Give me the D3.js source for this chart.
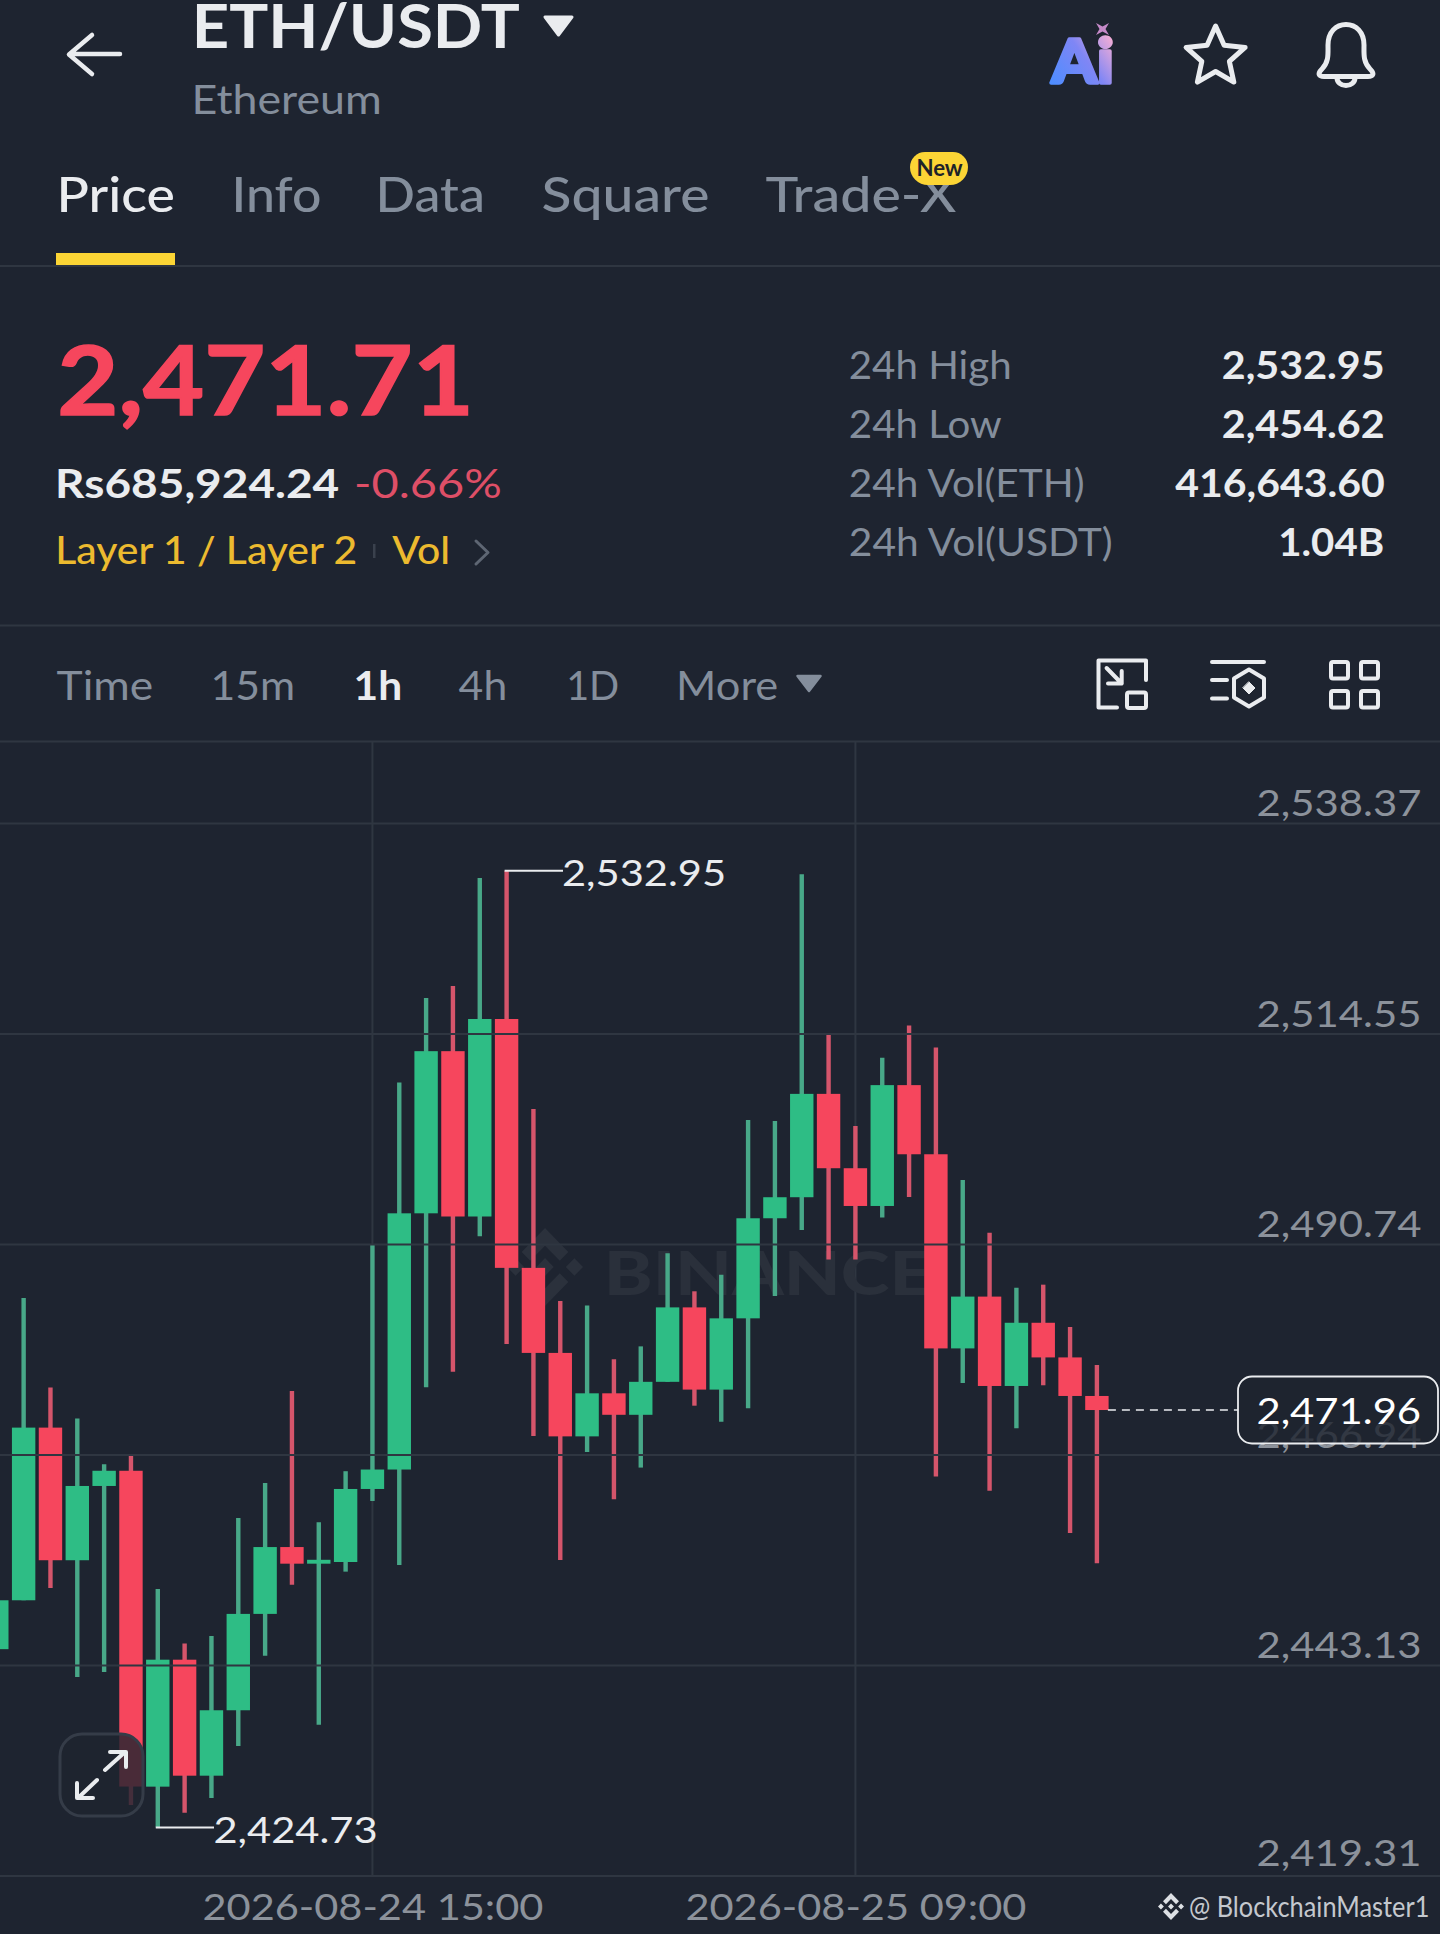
<!DOCTYPE html>
<html>
<head>
<meta charset="utf-8">
<script src="https://cdn.jsdelivr.net/npm/d3@7"></script>
<style>
html,body{margin:0;padding:0;background:#1E2430;}
svg{display:block;}
text{font-family:Lato,"Open Sans",sans-serif;}
</style>
</head>
<body>
<svg id="chart" width="1440" height="1934"></svg>
<script>
// ---------- chart data ----------
const opens  = [2444.91,2450.44,2469.97,2454.97,2463.37,2465.09,2429.36,2443.72,2430.60,2438.00,2448.90,2456.46,2454.58,2454.77,2463.03,2465.23,2494.21,2512.55,2493.85,2516.19,2488.04,2478.42,2468.98,2473.85,2471.42,2475.15,2483.57,2474.27,2482.33,2493.65,2496.03,2507.72,2499.31,2495.04,2508.71,2500.89,2478.93,2484.79,2474.68,2481.83,2477.91,2473.55];
const highs  = [2450.44,2484.63,2474.52,2471.01,2465.84,2466.96,2451.72,2445.55,2446.40,2459.76,2463.71,2474.12,2459.26,2465.04,2490.74,2509.02,2518.57,2519.92,2532.13,2532.95,2506.01,2484.29,2483.77,2477.70,2479.16,2489.70,2485.39,2487.26,2504.77,2504.65,2532.55,2514.58,2504.09,2511.80,2515.44,2512.96,2497.99,2492.00,2485.80,2486.14,2481.35,2477.05];
const lows   = [2444.91,2450.44,2451.83,2441.75,2442.34,2427.28,2424.73,2426.40,2428.08,2433.96,2444.16,2452.21,2436.37,2453.68,2461.68,2454.43,2474.53,2476.29,2491.62,2479.42,2469.02,2455.00,2467.21,2461.86,2465.45,2475.15,2472.45,2470.64,2472.15,2484.87,2492.32,2488.99,2488.99,2493.75,2496.05,2464.44,2475.02,2462.83,2469.91,2474.76,2458.05,2454.62];
const closes = [2450.44,2469.97,2454.97,2463.37,2465.09,2429.37,2443.72,2430.60,2438.00,2448.90,2456.46,2454.58,2455.02,2463.03,2465.23,2494.21,2512.55,2493.85,2516.19,2488.04,2478.42,2468.98,2473.85,2471.42,2475.15,2483.57,2474.27,2482.33,2493.65,2496.03,2507.72,2499.31,2495.04,2508.71,2500.89,2478.93,2484.79,2474.68,2481.83,2477.91,2473.55,2471.96];
const yTicks = [2538.37,2514.55,2490.74,2466.94,2443.13,2419.31];
const xTickIndex = [14,32];
const xTickLabels = ["2026-08-24 15:00","2026-08-25 09:00"];
const maxPrice = 2532.95, minPrice = 2424.73, lastPrice = 2471.96;
const maxIndex = 19, minIndex = 6;

const pairName = "ETH/USDT", coinName = "Ethereum";
const tabLabels = ["Price","Info","Data","Square","Trade-X"];
const intervalLabels = ["Time","15m","1h","4h","1D","More"];
const priceText = "2,471.71", fiatText = "Rs685,924.24", changeText = "-0.66%";
const tagLabels = ["Layer 1 / Layer 2","Vol"];
const statLabels = ["24h High","24h Low","24h Vol(ETH)","24h Vol(USDT)"];
const statValues = ["2,532.95","2,454.62","416,643.60","1.04B"];

// ---------- palette ----------
const BG="#1E2430", WHITE="#EAECEF", GREY="#848E9C", AXIS="#8C929B", UP="#2EBD85", DOWN="#F6465D",
      UPW="#48A888", DOWNW="#D5556B", LINE="#2F3641", YEL="#FCD535", TAG="#ECBA2F";

const svg = d3.select("#chart");
svg.append("rect").attr("width",1440).attr("height",1934).attr("fill",BG);

const defs = svg.append("defs");
const ai = defs.append("linearGradient").attr("id","aiGrad").attr("gradientUnits","userSpaceOnUse")
  .attr("x1",1053).attr("y1",83).attr("x2",1113).attr("y2",40);
[["0%","#4F8DFF"],["55%","#7F86F5"],["100%","#F2ADD6"]].forEach(s=>ai.append("stop").attr("offset",s[0]).attr("stop-color",s[1]));

function T(str,x,y,size,width,fill,weight){
  const n = svg.append("text").attr("x",x-0.07*size).attr("y",y).attr("font-size",size)
    .attr("fill",fill).attr("font-weight",weight||400).text(str);
  if(width) n.attr("textLength",width+0.1*size).attr("lengthAdjust","spacingAndGlyphs");
  return n;
}
function P(d,stroke,sw,fill){
  return svg.append("path").attr("d",d).attr("fill",fill||"none").attr("stroke",stroke||"none")
    .attr("stroke-width",sw||0).attr("stroke-linecap","round").attr("stroke-linejoin","round");
}
const LOGO = ["M38.73 53.2l24.59-24.58 24.6 24.6 14.3-14.31L63.32 0 24.42 38.9l14.31 14.3z",
 "M0 63.31l14.3-14.31 14.31 14.31-14.31 14.3z",
 "M38.73 73.41l24.59 24.59 24.6-24.6 14.31 14.29-38.9 38.91-38.91-38.88-.02-.02z",
 "M98 63.31l14.3-14.31 14.31 14.3-14.31 14.31z",
 "M77.83 63.3L63.32 48.78 52.59 59.51l-1.24 1.23-2.54 2.54 14.51 14.5 14.51-14.47z"].join("");
function logo(x,y,w,h,fill){
  svg.append("path").attr("d",LOGO).attr("fill",fill)
    .attr("transform",`translate(${x},${y}) scale(${w/126.61},${h/126.61})`);
}

// ---------- header ----------
P("M120 54H70M92 35L69 54.5L92 74",WHITE,4.5);
T(pairName,196,47.5,61,322,WHITE,700);
P("M545 17H572L558.5 35Z",WHITE,3,WHITE);
T(coinName,194.5,113.5,41,186,GREY,400);

// AI icon, star, bell
T("Ai",1056,83,60,56,"url(#aiGrad)",900).attr("stroke","url(#aiGrad)").attr("stroke-width",3.5).attr("stroke-linejoin","round");
P("M1096 23L1102.5 26.5L1109 23L1105.5 29L1109 35L1102.5 31.5L1096 35L1099.5 29Z",null,0,"#C58AC8");
const star = d3.range(10).map(i=>{
  const r = i%2? 14.5:31, a = -Math.PI/2 + i*Math.PI/5;
  return [1215.6+r*Math.cos(a), 57+r*Math.sin(a)];
});
P(d3.line()(star)+"Z",WHITE,5);
P("M1322 69C1329 62 1328 54 1328 45C1328 32 1336 24.5 1346 24.5C1356 24.5 1364 32 1364 45C1364 54 1363 62 1370 69C1375 74 1373 76.5 1368 76.5L1324 76.5C1319 76.5 1317 74 1322 69Z",WHITE,5);
P("M1337 78A9 7.5 0 0 0 1355 78",WHITE,5);

// tabs
const tabX=[60,235,379,545,769], tabW=[113.5,85,104.5,163,186];
tabLabels.forEach((s,i)=>T(s,tabX[i],211.5,48,tabW[i],i===0?WHITE:GREY,500));
svg.append("rect").attr("x",56).attr("y",253).attr("width",119).attr("height",12).attr("fill",YEL);
svg.append("path").attr("d","M925 152H953A15 15 0 0 1 968 167A18 18 0 0 1 950 185H928A18 18 0 0 1 910 167A15 15 0 0 1 925 152Z").attr("fill",YEL);
T("New",918,175.5,23,44,"#1E2329",700);
svg.append("line").attr("x1",0).attr("x2",1440).attr("y1",266).attr("y2",266).attr("stroke",LINE).attr("stroke-width",2);

// price block
T(priceText,64,415,96,407,DOWN,700).attr("stroke",DOWN).attr("stroke-width",1.6);
T(fiatText,58,497.5,41,280,WHITE,700);
T(changeText,357,497.5,41,143.5,"#DE4F67",400);
T(tagLabels[0],58,563.5,39,298,TAG,500);
T(tagLabels[1],395,563.5,39,54,TAG,500);
svg.append("rect").attr("x",373).attr("y",544).attr("width",2.5).attr("height",14).attr("fill","#3A414D");
P("M476 541L488 552.5L476 564","#5E6673",3);

const statLX=851.5, statBase=[379,437.7,497,556], statLW=[159,149,232,260];
const statVL=[1224.5,1224.5,1178,1281], statVW=[159,159,205.5,102];
statLabels.forEach((s,i)=>T(s,statLX,statBase[i],39,statLW[i],GREY,400));
statValues.forEach((s,i)=>T(s,statVL[i],statBase[i],39,statVW[i],WHITE,700));

svg.append("line").attr("x1",0).attr("x2",1440).attr("y1",625.5).attr("y2",625.5).attr("stroke",LINE).attr("stroke-width",2);

// interval row
const ivX=[59.5,213.5,356.5,461.5,569,679], ivW=[92.5,80.5,44.5,44.5,49,98];
intervalLabels.forEach((s,i)=>T(s,ivX[i],700,41,ivW[i],i===2?WHITE:GREY,i===2?700:400));
P("M797.5 676H820.5L809 691Z",GREY,2.5,GREY);
P("M1098.5 692V660.5H1146V680M1098.5 692V707.5H1117M1106.6 668L1121.7 683.5M1108 683.5H1121.7V671",WHITE,4);
svg.append("rect").attr("x",1127).attr("y",692.5).attr("width",19).attr("height",15.5).attr("rx",2).attr("fill","none").attr("stroke",WHITE).attr("stroke-width",4);
P("M1212 662H1264M1212 680H1227M1212 698.5H1227",WHITE,4);
P("M1249 669.5L1264 678.5V697.5L1249 706.5L1234 697.5V678.5Z",WHITE,4);
P("M1249 682L1255 688L1249 694L1243 688Z",WHITE,1,WHITE);
[1331,1361].forEach(x=>[662,691].forEach(y=>{
  svg.append("rect").attr("x",x).attr("y",y).attr("width",17).attr("height",16.5).attr("rx",2)
    .attr("fill","none").attr("stroke",WHITE).attr("stroke-width",4);
}));
svg.append("line").attr("x1",0).attr("x2",1440).attr("y1",741.5).attr("y2",741.5).attr("stroke",LINE).attr("stroke-width",2);

// ---------- chart ----------
const candles = opens.map((o,i)=>({i,o,h:highs[i],l:lows[i],c:closes[i]}));
const up = d=>d.c>=d.o;
const x = d3.scaleLinear().domain([0,opens.length-1]).range([-3.2,1096.9]);
const y = d3.scaleLinear().domain([yTicks[0],yTicks[yTicks.length-1]]).range([822.9,1875.5]);
const bodyW = 23.4, wickW = 4.4;

// y grid & labels via axis
const yAxis = d3.axisRight(y).tickValues(yTicks).tickSize(1440).tickFormat(d3.format(",.2f"));
const yG = svg.append("g").call(yAxis);
yG.select(".domain").remove();
yG.selectAll(".tick line").attr("stroke",LINE).attr("stroke-width",2);

// x grid & labels via axis
const xAxis = d3.axisBottom(x).tickValues(xTickIndex).tickSize(0).tickFormat((d,i)=>xTickLabels[i]);
const xG = svg.append("g").attr("transform","translate(0,1875.5)").call(xAxis);
xG.select(".domain").remove();
xG.selectAll(".tick text").attr("y",44).attr("dy",0).attr("fill",AXIS).attr("font-size",37)
  .attr("text-anchor","middle").attr("textLength",341).attr("lengthAdjust","spacingAndGlyphs");
svg.selectAll("line.vg").data(xTickIndex).join("line").attr("class","vg")
  .attr("x1",d=>x(d)).attr("x2",d=>x(d)).attr("y1",742).attr("y2",1875.5)
  .attr("stroke",LINE).attr("stroke-width",2);

// BINANCE watermark
logo(507,1228,76,78,"#2B313C");
T("BINANCE",608,1294.5,60,322,"#2A303B",900);

// wicks and bodies
svg.append("g").selectAll("line").data(candles).join("line")
  .attr("x1",d=>x(d.i)).attr("x2",d=>x(d.i)).attr("y1",d=>y(d.h)).attr("y2",d=>y(d.l))
  .attr("stroke",d=>up(d)?UPW:DOWNW).attr("stroke-width",wickW);
svg.append("g").selectAll("rect").data(candles).join("rect")
  .attr("x",d=>x(d.i)-bodyW/2).attr("width",bodyW)
  .attr("y",d=>y(Math.max(d.o,d.c))).attr("height",d=>Math.max(3,Math.abs(y(d.o)-y(d.c))))
  .attr("fill",d=>up(d)?UP:DOWN);

// y tick labels placed above their lines, drawn on top
yG.raise();
yG.selectAll(".tick line").lower();
yG.selectAll(".tick text").attr("x",1421.5).attr("dy",0)
  .attr("y",(d,i)=>i===yTicks.length-1?-10.5:-7)
  .attr("text-anchor","end").attr("fill",AXIS).attr("font-size",37)
  .attr("textLength",165).attr("lengthAdjust","spacingAndGlyphs");

// high / low markers
const fmt = d3.format(",.2f");
svg.append("line").attr("x1",x(maxIndex)-2).attr("x2",563).attr("y1",y(maxPrice)).attr("y2",y(maxPrice)).attr("stroke",WHITE).attr("stroke-width",2);
T(fmt(maxPrice),564.5,886,37,160.5,WHITE,400);
svg.append("line").attr("x1",x(minIndex)-2).attr("x2",214).attr("y1",y(minPrice)).attr("y2",y(minPrice)).attr("stroke",WHITE).attr("stroke-width",2);
T(fmt(minPrice),216,1842.5,37,160.5,WHITE,400);

// last price
svg.append("line").attr("x1",x(41)+11).attr("x2",1238).attr("y1",y(lastPrice)).attr("y2",y(lastPrice))
  .attr("stroke",WHITE).attr("stroke-width",1.5).attr("stroke-dasharray","8 6");
svg.append("rect").attr("x",1238).attr("y",1376.5).attr("width",200).attr("height",67).attr("rx",14)
  .attr("fill",BG).attr("fill-opacity",0.82).attr("stroke",WHITE).attr("stroke-width",1.8);
T(fmt(lastPrice),1259,1424,37,161,"#FFFFFF",400);

// expand button
svg.append("rect").attr("x",60).attr("y",1734).attr("width",83).attr("height",82).attr("rx",22)
  .attr("fill",BG).attr("fill-opacity",0.8).attr("stroke","#353C48").attr("stroke-width",3);
P("M105 1770L125 1752M110 1752H126V1767M97 1780L78 1798M93 1798H77V1783",WHITE,4);

// credit
logo(1158,1893,26,27,"#DDE0E4");
T("@ BlockchainMaster1",1191,1917,28,237.5,"#C4C8CE",400);
</script>
</body>
</html>
